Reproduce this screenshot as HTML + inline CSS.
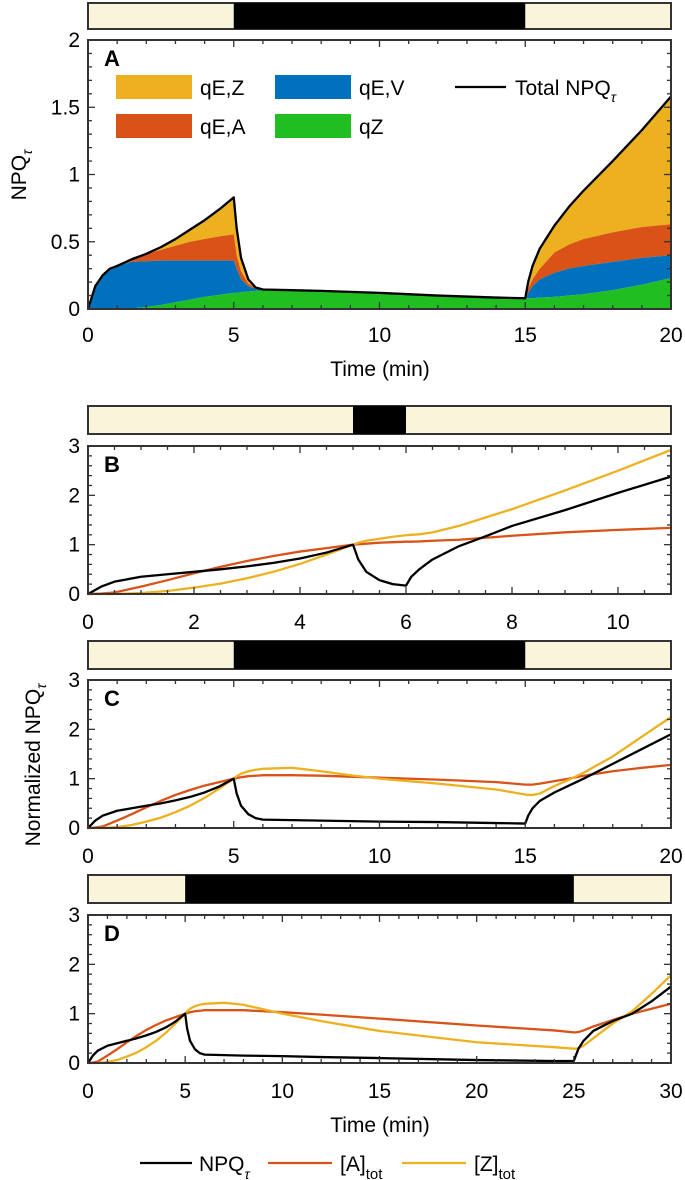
<!DOCTYPE html>
<html><head><meta charset="utf-8">
<style>
html,body{margin:0;padding:0;background:#fff;}
svg{display:block;font-family:"Liberation Sans",sans-serif;}
</style></head>
<body>
<svg id="fig" width="685" height="1180" viewBox="0 0 685 1180" xmlns="http://www.w3.org/2000/svg">
<text x="26" y="175" font-size="21" text-anchor="middle" transform="rotate(-90 26 175)">NPQ<tspan font-size="14" font-style="italic" dy="6">τ</tspan></text>
<text x="40" y="765" font-size="21" text-anchor="middle" transform="rotate(-90 40 765)">Normalized NPQ<tspan font-size="14" font-style="italic" dy="6">τ</tspan></text>
<text x="380" y="376" font-size="21" text-anchor="middle">Time (min)</text>
<text x="380" y="1132" font-size="21" text-anchor="middle">Time (min)</text>
<g>
<line x1="140" y1="1163" x2="192" y2="1163" stroke="#000" stroke-width="2.2"/>
<text x="199" y="1171" font-size="21">NPQ<tspan font-size="14" font-style="italic" dy="8">τ</tspan></text>
<line x1="268" y1="1163" x2="332" y2="1163" stroke="#D95319" stroke-width="2.2"/>
<text x="340" y="1171" font-size="21">[A]<tspan font-size="15" dy="8">tot</tspan></text>
<line x1="402" y1="1163" x2="466" y2="1163" stroke="#EDB120" stroke-width="2.2"/>
<text x="474" y="1171" font-size="21">[Z]<tspan font-size="15" dy="8">tot</tspan></text>
</g>
</svg>
<script>
// Panel A data
const tA = [0,.25,.5,.75,1,1.5,2,2.5,3,3.5,4,4.5,5,5.1,5.25,5.5,5.75,6,7,8,10,12,14,15,15.1,15.25,15.5,16,16.5,17,18,19,20];
const qZ  = [0,0,0,0,0,.005,.015,.03,.05,.07,.09,.105,.12,.12,.125,.13,.135,.14,.135,.13,.115,.1,.085,.08,.08,.08,.085,.09,.1,.11,.14,.18,.23];
const qEV = [0,.17,.25,.3,.32,.345,.34,.33,.31,.29,.27,.255,.24,.18,.095,.04,.015,.005,.005,.005,.005,0,0,0,.04,.09,.135,.18,.2,.21,.21,.2,.17];
const qEA = [0,0,0,0,0,.02,.055,.08,.11,.14,.16,.18,.195,.1,.06,.02,.005,0,0,0,0,0,0,0,.03,.05,.08,.15,.18,.2,.22,.23,.23];
const qEZ = [0,0,0,0,0,0,0,.02,.05,.09,.14,.2,.275,.2,.1,.03,.005,0,0,0,0,0,0,0,.05,.1,.15,.2,.28,.36,.53,.72,.95];
// Panel B data
const tB = [0,.25,.5,1,1.5,2,2.5,3,3.5,4,4.5,5,5.1,5.25,5.5,5.75,6,6.1,6.25,6.5,7,7.5,8,9,10,11];
const npqB = [0,.15,.25,.35,.4,.45,.5,.56,.63,.72,.84,1.0,.7,.45,.28,.2,.17,.35,.5,.7,.97,1.17,1.38,1.7,2.05,2.38];
const aB = [0,.01,.03,.15,.28,.42,.55,.67,.77,.86,.93,1.0,1.01,1.02,1.04,1.05,1.06,1.06,1.065,1.08,1.1,1.14,1.18,1.25,1.3,1.34];
const zB = [0,0,0,.02,.06,.13,.21,.32,.45,.61,.8,1.0,1.04,1.08,1.12,1.16,1.19,1.2,1.21,1.25,1.38,1.55,1.72,2.1,2.5,2.92];
// Panel C data
const tC = [0,.25,.5,1,1.5,2,2.5,3,3.5,4,4.5,5,5.1,5.25,5.5,5.75,6,7,8,9,10,12,14,15,15.1,15.25,15.5,16,16.5,17,18,19,20];
const npqC = [0,.15,.25,.35,.4,.45,.5,.56,.63,.72,.84,1.0,.7,.45,.28,.2,.17,.16,.15,.14,.13,.12,.1,.09,.25,.4,.55,.72,.86,1.0,1.3,1.6,1.9];
const aC = [0,.01,.03,.15,.28,.42,.55,.67,.77,.86,.93,1.0,1.01,1.03,1.05,1.06,1.07,1.07,1.06,1.04,1.02,.98,.93,.88,.88,.88,.9,.95,1.0,1.06,1.15,1.22,1.28];
const zC = [0,0,0,.02,.06,.13,.21,.32,.45,.61,.8,1.0,1.05,1.1,1.15,1.18,1.2,1.22,1.15,1.07,1.0,.9,.78,.68,.67,.67,.7,.85,.98,1.12,1.45,1.85,2.25];
// Panel D data
const tD = [0,.25,.5,1,1.5,2,2.5,3,3.5,4,4.5,5,5.1,5.25,5.5,5.75,6,7,8,10,12,15,20,24,25,25.1,25.25,25.5,26,27,28,29,30];
const npqD = [0,.15,.25,.35,.4,.45,.5,.56,.63,.72,.84,1.0,.7,.45,.28,.2,.17,.16,.15,.14,.12,.1,.06,.04,.04,.15,.3,.45,.65,.85,1.0,1.25,1.55];
const aD = [0,.01,.03,.15,.28,.42,.55,.67,.77,.86,.93,1.0,1.01,1.03,1.05,1.06,1.07,1.07,1.07,1.03,.98,.9,.76,.66,.62,.62,.63,.66,.74,.87,1.0,1.1,1.2];
const zD = [0,0,0,.02,.06,.13,.21,.32,.45,.61,.8,1.0,1.05,1.1,1.15,1.18,1.2,1.22,1.18,1.0,.85,.65,.42,.32,.29,.29,.3,.35,.5,.8,1.05,1.4,1.78];
// Dark periods
const darkA = [5,15], darkB = [5,6], darkC = [5,15], darkD = [5,25];
const ticksA = ["0","0.5","1","1.5","2"];

const NS = "http://www.w3.org/2000/svg";
const svg = document.getElementById('fig');
function mk(tag, attrs, parent){const e=document.createElementNS(NS,tag);for(const k in attrs)e.setAttribute(k,attrs[k]);(parent||svg).appendChild(e);return e;}

const X0=88, X1=671;
const panels = [
 {id:'a',letter:'A',barT:3,barB:29,top:40,bot:309,xmax:20,ymax:2,xmaj:5,xmin:1,ymaj:.5,ymin:.1,dark:darkA,labY:342},
 {id:'b',letter:'B',barT:406,barB:434,top:446,bot:594,xmax:11,ymax:3,xmaj:2,xmin:.5,ymaj:1,ymin:.2,dark:darkB,labY:629},
 {id:'c',letter:'C',barT:641,barB:669,top:680,bot:828,xmax:20,ymax:3,xmaj:5,xmin:1,ymaj:1,ymin:.2,dark:darkC,labY:863},
 {id:'d',letter:'D',barT:875,barB:903,top:915,bot:1063,xmax:30,ymax:3,xmaj:5,xmin:1,ymaj:1,ymin:.2,dark:darkD,labY:1098}
];
function sx(p,v){return X0+(X1-X0)*v/p.xmax;}
function sy(p,v){return p.bot-(p.bot-p.top)*v/p.ymax;}

panels.forEach(p=>{
  const g=mk('g',{});
  
  
  const bg=mk('rect',{x:X0,y:p.barT,width:X1-X0,height:p.barB-p.barT,fill:'#FAF5DA',stroke:'#333','stroke-width':2},g);
  
  
  const dk=mk('rect',{x:sx(p,p.dark[0]),y:p.barT,width:sx(p,p.dark[1])-sx(p,p.dark[0]),height:p.barB-p.barT,fill:'#000'},g);
  
  
  p.g=g;
});

function line(p,t,v,color,name){
  const d=t.map((tt,i)=>(i?'L':'M')+sx(p,tt).toFixed(2)+','+sy(p,v[i]).toFixed(2)).join('');
  const e=mk('path',{d:d,fill:'none',stroke:color,'stroke-width':2.3,'stroke-linejoin':'round'},p.g);
  
  
}
function area(p,t,lo,hi,color,name){
  let d=t.map((tt,i)=>(i?'L':'M')+sx(p,tt).toFixed(2)+','+sy(p,hi[i]).toFixed(2)).join('');
  for(let i=t.length-1;i>=0;i--)d+='L'+sx(p,t[i]).toFixed(2)+','+sy(p,lo[i]).toFixed(2);
  const e=mk('path',{d:d+'Z',fill:color,stroke:'none'},p.g);
  
  
}
const pA=panels[0];
const zero=tA.map(()=>0);
const c1=qZ.slice(), c2=c1.map((v,i)=>v+qEV[i]), c3=c2.map((v,i)=>v+qEA[i]), c4=c3.map((v,i)=>v+qEZ[i]);
area(pA,tA,c3,c4,'#EDB120','area-qe-z');
area(pA,tA,c2,c3,'#D95319','area-qe-a');
area(pA,tA,c1,c2,'#0072BD','area-qe-v');
area(pA,tA,zero,c1,'#20BE20','area-qz');
line(pA,tA,c4,'#000','line-total-npq');

const series=[[tB,npqB,aB,zB],[tC,npqC,aC,zC],[tD,npqD,aD,zD]];
series.forEach((s,k)=>{
  const p=panels[k+1];
  line(p,s[0],s[2],'#D95319','line-a-tot-'+p.id);
  line(p,s[0],s[3],'#EDB120','line-z-tot-'+p.id);
  line(p,s[0],s[1],'#000','line-npq-'+p.id);
});

panels.forEach(p=>{
  const g=p.g;
  const ax=mk('g',{},g);
  
  
  const eps=1e-6;
  for(let v=0;v<=p.xmax+eps;v+=p.xmin){
    const maj=Math.abs(v/p.xmaj-Math.round(v/p.xmaj))<eps;
    const L=maj?7:4, x=sx(p,v);
    mk('line',{x1:x,y1:p.bot,x2:x,y2:p.bot-L,stroke:'#333','stroke-width':1.3},ax);
    mk('line',{x1:x,y1:p.top,x2:x,y2:p.top+L,stroke:'#333','stroke-width':1.3},ax);
    if(maj){
      const t=mk('text',{x:x,y:p.labY,'font-size':21,'text-anchor':'middle'},ax);
      t.textContent=String(Math.round(v));
      
      
    }
  }
  for(let v=0;v<=p.ymax+eps;v+=p.ymin){
    const maj=Math.abs(v/p.ymaj-Math.round(v/p.ymaj))<eps;
    const L=maj?7:4, y=sy(p,v);
    mk('line',{x1:X0,y1:y,x2:X0+L,y2:y,stroke:'#333','stroke-width':1.3},ax);
    mk('line',{x1:X1,y1:y,x2:X1-L,y2:y,stroke:'#333','stroke-width':1.3},ax);
    if(maj){
      const t=mk('text',{x:X0-8,y:y+7,'font-size':21,'text-anchor':'end'},ax);
      t.textContent=p.id==='a'?ticksA[Math.round(v/p.ymaj)]:String(Math.round(v));
      
      
    }
  }
  const fr=mk('rect',{x:X0,y:p.top,width:X1-X0,height:p.bot-p.top,fill:'none',stroke:'#333','stroke-width':2},ax);
  
  
  const lt=mk('text',{x:104,y:p.top+26,'font-size':22,'font-weight':'bold'},g);
  lt.textContent=p.letter;
  
  
});

const lg=mk('g',{});


const items=[[116,75,'#EDB120','qE,Z'],[116,114,'#D95319','qE,A'],[275,75,'#0072BD','qE,V'],[275,114,'#20BE20','qZ']];
items.forEach(it=>{
  const r=mk('rect',{x:it[0],y:it[1],width:76,height:24,fill:it[2]},lg);
  
  
  const t=mk('text',{x:it[0]+84,y:it[1]+20,'font-size':21},lg);
  t.textContent=it[3];
  
  
});
const ll=mk('line',{x1:455,y1:87,x2:506,y2:87,stroke:'#000','stroke-width':2.2},lg);


const lt=mk('text',{x:515,y:95,'font-size':21},lg);
lt.innerHTML='Total NPQ<tspan font-size="14" font-style="italic" dy="7">τ</tspan>';


</script>
</body></html>
